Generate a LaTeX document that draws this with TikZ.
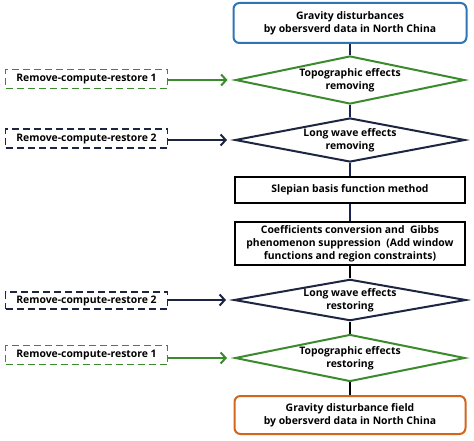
\documentclass[tikz,border=0pt]{standalone}
\usepackage{fontspec}
\setmainfont{Open Sans}
\usetikzlibrary{shapes.geometric,arrows.meta}
\definecolor{cblue}{HTML}{2E75B6}
\definecolor{cgreen}{HTML}{3C8A2E}
\definecolor{cnavy}{HTML}{1C2541}
\definecolor{corange}{HTML}{D4661C}
\definecolor{cline}{HTML}{1A2350}
\tikzset{
  base/.style={font=\bfseries\fontsize{10.4}{13}\selectfont, align=center, inner sep=0pt, fill=white},
  roundbox/.style={base, draw, line width=2pt, rounded corners=6pt},
  plainbox/.style={base, draw=black, line width=2pt, minimum width=230pt},
  dia/.style={base, draw, shape=diamond, line width=2pt, shape aspect=5.2},
  dbox/.style={base, draw, dash pattern=on 7pt off 4pt, line width=1.5pt, minimum width=162pt, minimum height=19pt},
  link/.style={draw=cline, line width=2pt},
  feed/.style={line width=2pt, -{Straight Barb[length=5pt,width=11pt]}, shorten >=7pt}
}
\begin{document}
\begin{tikzpicture}[x=1pt,y=-1pt]
\useasboundingbox (0,0) rectangle (474,441);
% main chain
\node[roundbox, draw=cblue, minimum width=233pt, minimum height=40pt] (top) at (350,23) {Gravity disturbances\\by obersverd data in North China};
\node[dia, draw=cgreen, minimum width=229pt, minimum height=48pt] (t1) at (350,80) {Topographic effects\\removing};
\node[dia, draw=cnavy, minimum width=230pt, minimum height=44pt] (l1) at (350,140) {Long wave effects\\removing};
\node[plainbox, minimum height=26pt] (sl) at (350,190) {Slepian basis function method};
\node[plainbox, minimum height=43pt] (co) at (350,243.5) {Coefficients conversion and\ \ Gibbs\\phenomenon suppression\ \ (Add window\\functions and region constraints)};
\node[dia, draw=cnavy, minimum width=232pt, minimum height=40pt] (l2) at (350,300) {Long wave effects\\restoring};
\node[dia, draw=cgreen, minimum width=230pt, minimum height=47pt] (t2) at (350,358) {Topographic effects\\restoring};
\node[roundbox, draw=corange, minimum width=231pt, minimum height=38pt] (bot) at (350,415) {Gravity disturbance field\\by obersverd data in North China};
% side boxes
\node[dbox, draw=cgreen] (r1) at (86.5,79) {Remove-compute-restore 1};
\node[dbox, draw=cnavy] (r2) at (86.5,138.5) {Remove-compute-restore 2};
\node[dbox, draw=cnavy, minimum height=17pt] (r2b) at (86.5,300.5) {Remove-compute-restore 2};
\node[dbox, draw=cgreen] (r1b) at (86.5,355) {Remove-compute-restore 1};
% connectors
\draw[link] (top) -- (t1);
\draw[link] (t1) -- (l1);
\draw[link] (l1) -- (sl);
\draw[link] (sl) -- (co);
\draw[link,draw=black] (co) -- (l2);
\draw[link,draw=black] (l2) -- (t2);
\draw[link,draw=black] (t2) -- (bot);
\draw[feed, draw=cgreen] (r1.east |- t1.west) -- (t1.west);
\draw[feed, draw=cnavy] (r2.east |- l1.west) -- (l1.west);
\draw[feed, draw=cnavy] (r2b.east |- l2.west) -- (l2.west);
\draw[feed, draw=cgreen] (r1b.east |- t2.west) -- (t2.west);
\end{tikzpicture}
\end{document}
